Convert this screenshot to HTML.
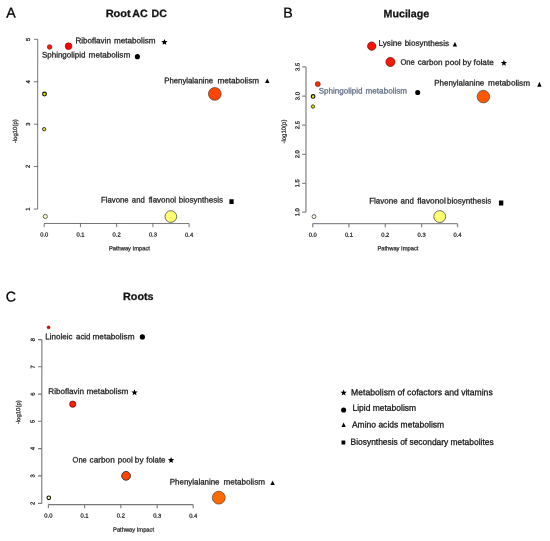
<!DOCTYPE html>
<html lang="en"><head><meta charset="utf-8"><title>Pathway analysis</title>
<style>html,body{margin:0;padding:0;background:#fff}body{width:550px;height:541px;overflow:hidden}text{white-space:pre;stroke-width:0.26px;paint-order:stroke fill} svg{filter:blur(0.35px)}</style>
</head><body>
<svg width="550" height="541" viewBox="0 0 550 541" font-family='"Liberation Sans", sans-serif' style="display:block">
<g transform="rotate(0.03 275 270)">
<text x="6.0" y="17.6" font-size="14.2" fill="#000" stroke="#000">A</text>
<text x="283.1" y="17.6" font-size="14.2" fill="#000" stroke="#000">B</text>
<text x="5.7" y="301.7" font-size="14.2" fill="#000" stroke="#000">C</text>
<text y="17.1" font-size="10.6" font-weight="bold" fill="#111" stroke="#111"><tspan x="105.54" textLength="25.09" lengthAdjust="spacingAndGlyphs">Root</tspan> <tspan x="132.19" textLength="15.45" lengthAdjust="spacingAndGlyphs">AC</tspan> <tspan x="151.36" textLength="15.37" lengthAdjust="spacingAndGlyphs">DC</tspan></text>
<text x="383.4" y="17.2" font-size="10.6" font-weight="bold" fill="#111" stroke="#111" textLength="45.7" lengthAdjust="spacingAndGlyphs">Mucilage</text>
<text x="123.1" y="300.0" font-size="10.6" font-weight="bold" fill="#111" stroke="#111" textLength="30.5" lengthAdjust="spacingAndGlyphs">Roots</text>
<path d="M37.6 39.4V209.2M37.6 39.4h-3.8M37.6 81.9h-3.8M37.6 124.3h-3.8M37.6 166.6h-3.8M37.6 209.2h-3.8M44.2 223.6H189.1M44.2 223.6v3.6M80.4 223.6v3.6M116.6 223.6v3.6M152.9 223.6v3.6M189.1 223.6v3.6" stroke="#222" stroke-width="0.62" fill="none"/>
<text transform="translate(29.8 39.4) rotate(-90)" text-anchor="middle" font-size="5.8" fill="#222" stroke="#222" stroke-width="0.18">5</text>
<text transform="translate(29.8 81.9) rotate(-90)" text-anchor="middle" font-size="5.8" fill="#222" stroke="#222" stroke-width="0.18">4</text>
<text transform="translate(29.8 124.3) rotate(-90)" text-anchor="middle" font-size="5.8" fill="#222" stroke="#222" stroke-width="0.18">3</text>
<text transform="translate(29.8 166.6) rotate(-90)" text-anchor="middle" font-size="5.8" fill="#222" stroke="#222" stroke-width="0.18">2</text>
<text transform="translate(29.8 209.2) rotate(-90)" text-anchor="middle" font-size="5.8" fill="#222" stroke="#222" stroke-width="0.18">1</text>
<text x="44.2" y="236.7" text-anchor="middle" font-size="5.8" fill="#2a2a2a" stroke="#2a2a2a" stroke-width="0.18">0.0</text>
<text x="80.4" y="236.7" text-anchor="middle" font-size="5.8" fill="#2a2a2a" stroke="#2a2a2a" stroke-width="0.18">0.1</text>
<text x="116.6" y="236.7" text-anchor="middle" font-size="5.8" fill="#2a2a2a" stroke="#2a2a2a" stroke-width="0.18">0.2</text>
<text x="152.9" y="236.7" text-anchor="middle" font-size="5.8" fill="#2a2a2a" stroke="#2a2a2a" stroke-width="0.18">0.3</text>
<text x="189.1" y="236.7" text-anchor="middle" font-size="5.8" fill="#2a2a2a" stroke="#2a2a2a" stroke-width="0.18">0.4</text>
<text transform="translate(16.9 131.4) rotate(-90)" text-anchor="middle" font-size="6" fill="#333" stroke="#333" stroke-width="0.18" textLength="24" lengthAdjust="spacingAndGlyphs">-log10(p)</text>
<text x="108.9" y="250.3" font-size="5.8" fill="#2a2a2a" stroke="#2a2a2a" textLength="41" lengthAdjust="spacingAndGlyphs" stroke-width="0.12">Pathway Impact</text>
<circle cx="49.5" cy="47.1" r="2.30" fill="#ff1a00" stroke="#8a0000" stroke-width="0.6"/>
<circle cx="68.4" cy="46.3" r="3.35" fill="#ff0000" stroke="#8a0000" stroke-width="0.6"/>
<circle cx="44.4" cy="94.2" r="1.88" fill="#f2ea00" stroke="#111" stroke-width="1.15"/>
<circle cx="44.1" cy="129.3" r="1.67" fill="#ecec20" stroke="#222" stroke-width="0.95"/>
<circle cx="45.3" cy="216.6" r="2.08" fill="#ffffd0" stroke="#444" stroke-width="0.85"/>
<circle cx="214.7" cy="93.9" r="6.40" fill="#ff4500" stroke="#333" stroke-width="0.6"/>
<circle cx="170.8" cy="216.6" r="5.85" fill="#ffff70" stroke="#333" stroke-width="0.7"/>
<text y="43.3" font-size="8" fill="#1a1a1a" stroke="#1a1a1a"><tspan x="75.35" textLength="35.50" lengthAdjust="spacingAndGlyphs">Riboflavin</tspan> <tspan x="113.91" textLength="41.50" lengthAdjust="spacingAndGlyphs">metabolism</tspan></text>
<polygon points="164.30,38.94 165.16,41.07 167.45,41.23 165.68,42.70 166.24,44.93 164.30,43.71 162.36,44.93 162.92,42.70 161.15,41.23 163.44,41.07" fill="#000"/>
<text y="57.5" font-size="8" fill="#1a1a1a" stroke="#1a1a1a"><tspan x="41.78" textLength="43.67" lengthAdjust="spacingAndGlyphs">Sphingolipid</tspan> <tspan x="88.51" textLength="41.60" lengthAdjust="spacingAndGlyphs">metabolism</tspan></text>
<circle cx="137.3" cy="56.7" r="2.55" fill="#000"/>
<text y="83.2" font-size="8" fill="#1a1a1a" stroke="#1a1a1a"><tspan x="164.18" textLength="48.80" lengthAdjust="spacingAndGlyphs">Phenylalanine</tspan> <tspan x="217.31" textLength="41.60" lengthAdjust="spacingAndGlyphs">metabolism</tspan></text>
<polygon points="267.2,78.40 269.34999999999997,83.10 265.05,83.10" fill="#000"/>
<text y="202.5" font-size="8" fill="#1a1a1a" stroke="#1a1a1a"><tspan x="100.98" textLength="27.60" lengthAdjust="spacingAndGlyphs">Flavone</tspan> <tspan x="131.79" textLength="12.95" lengthAdjust="spacingAndGlyphs">and</tspan> <tspan x="148.62" textLength="27.48" lengthAdjust="spacingAndGlyphs">flavonol</tspan> <tspan x="178.72" textLength="44.22" lengthAdjust="spacingAndGlyphs">biosynthesis</tspan></text>
<rect x="229.4" y="199.2" width="4.20" height="4.70" fill="#000"/>
<path d="M305.9 66.9V212.2M305.9 66.9h-3.8M305.9 96.1h-3.8M305.9 125.1h-3.8M305.9 154.3h-3.8M305.9 183.3h-3.8M305.9 212.2h-3.8M312.7 223.6H457.5M312.7 223.6v3.6M348.9 223.6v3.6M385.3 223.6v3.6M421.6 223.6v3.6M457.5 223.6v3.6" stroke="#8a8a8a" stroke-width="1.3" fill="none"/>
<text transform="translate(299.3 66.9) rotate(-90)" text-anchor="middle" font-size="5.8" fill="#222" stroke="#222" stroke-width="0.18">3.5</text>
<text transform="translate(299.3 96.1) rotate(-90)" text-anchor="middle" font-size="5.8" fill="#222" stroke="#222" stroke-width="0.18">3.0</text>
<text transform="translate(299.3 125.1) rotate(-90)" text-anchor="middle" font-size="5.8" fill="#222" stroke="#222" stroke-width="0.18">2.5</text>
<text transform="translate(299.3 154.3) rotate(-90)" text-anchor="middle" font-size="5.8" fill="#222" stroke="#222" stroke-width="0.18">2.0</text>
<text transform="translate(299.3 183.3) rotate(-90)" text-anchor="middle" font-size="5.8" fill="#222" stroke="#222" stroke-width="0.18">1.5</text>
<text transform="translate(299.3 212.2) rotate(-90)" text-anchor="middle" font-size="5.8" fill="#222" stroke="#222" stroke-width="0.18">1.0</text>
<text x="312.7" y="236.7" text-anchor="middle" font-size="5.8" fill="#2a2a2a" stroke="#2a2a2a" stroke-width="0.18">0.0</text>
<text x="348.9" y="236.7" text-anchor="middle" font-size="5.8" fill="#2a2a2a" stroke="#2a2a2a" stroke-width="0.18">0.1</text>
<text x="385.3" y="236.7" text-anchor="middle" font-size="5.8" fill="#2a2a2a" stroke="#2a2a2a" stroke-width="0.18">0.2</text>
<text x="421.6" y="236.7" text-anchor="middle" font-size="5.8" fill="#2a2a2a" stroke="#2a2a2a" stroke-width="0.18">0.3</text>
<text x="457.5" y="236.7" text-anchor="middle" font-size="5.8" fill="#2a2a2a" stroke="#2a2a2a" stroke-width="0.18">0.4</text>
<text transform="translate(285.59999999999997 131.6) rotate(-90)" text-anchor="middle" font-size="6" fill="#333" stroke="#333" stroke-width="0.18" textLength="24" lengthAdjust="spacingAndGlyphs">-log10(p)</text>
<text x="377.4" y="250.3" font-size="5.8" fill="#2a2a2a" stroke="#2a2a2a" textLength="41" lengthAdjust="spacingAndGlyphs" stroke-width="0.12">Pathway Impact</text>
<circle cx="371.6" cy="46.1" r="4.17" fill="#ff1000" stroke="#4a0000" stroke-width="0.65"/>
<circle cx="390.3" cy="61.9" r="4.52" fill="#ff1800" stroke="#4a0000" stroke-width="0.65"/>
<circle cx="317.7" cy="84.1" r="2.47" fill="#ff3300" stroke="#4a0000" stroke-width="0.65"/>
<circle cx="313.0" cy="96.4" r="1.82" fill="#f2f200" stroke="#111" stroke-width="1.15"/>
<circle cx="312.9" cy="106.5" r="1.65" fill="#eeee00" stroke="#222" stroke-width="0.9"/>
<circle cx="314.0" cy="216.6" r="1.97" fill="#ffffe0" stroke="#444" stroke-width="0.85"/>
<circle cx="483.3" cy="96.5" r="6.30" fill="#ff5800" stroke="#333" stroke-width="0.6"/>
<circle cx="439.7" cy="216.5" r="5.95" fill="#ffff70" stroke="#333" stroke-width="0.7"/>
<text y="45.8" font-size="8" fill="#1a1a1a" stroke="#1a1a1a"><tspan x="378.35" textLength="23.35" lengthAdjust="spacingAndGlyphs">Lysine</tspan> <tspan x="404.52" textLength="44.32" lengthAdjust="spacingAndGlyphs">biosynthesis</tspan></text>
<polygon points="454.8,41.60 456.95,46.50 452.65000000000003,46.50" fill="#000"/>
<text y="64.8" font-size="8" fill="#1a1a1a" stroke="#1a1a1a"><tspan x="400.30" textLength="14.38" lengthAdjust="spacingAndGlyphs">One</tspan> <tspan x="417.68" textLength="24.78" lengthAdjust="spacingAndGlyphs">carbon</tspan> <tspan x="445.01" textLength="15.50" lengthAdjust="spacingAndGlyphs">pool</tspan> <tspan x="462.49" textLength="8.91" lengthAdjust="spacingAndGlyphs">by</tspan> <tspan x="473.52" textLength="20.18" lengthAdjust="spacingAndGlyphs">folate</tspan></text>
<polygon points="503.80,59.64 504.66,61.77 506.95,61.93 505.18,63.40 505.74,65.63 503.80,64.41 501.86,65.63 502.42,63.40 500.65,61.93 502.94,61.77" fill="#000"/>
<text y="93.4" font-size="8" fill="#5d6b85" stroke="#5d6b85"><tspan x="318.68" textLength="43.77" lengthAdjust="spacingAndGlyphs">Sphingolipid</tspan> <tspan x="365.51" textLength="41.50" lengthAdjust="spacingAndGlyphs">metabolism</tspan></text>
<circle cx="417.6" cy="92.5" r="2.55" fill="#000"/>
<text y="85.5" font-size="8" fill="#1a1a1a" stroke="#1a1a1a"><tspan x="434.16" textLength="50.02" lengthAdjust="spacingAndGlyphs">Phenylalanine</tspan> <tspan x="488.01" textLength="41.91" lengthAdjust="spacingAndGlyphs">metabolism</tspan></text>
<polygon points="539.3,81.60 541.4499999999999,86.70 537.15,86.70" fill="#000"/>
<text y="203.5" font-size="8" fill="#1a1a1a" stroke="#1a1a1a"><tspan x="369.16" textLength="28.43" lengthAdjust="spacingAndGlyphs">Flavone</tspan> <tspan x="400.58" textLength="13.16" lengthAdjust="spacingAndGlyphs">and</tspan> <tspan x="417.12" textLength="28.60" lengthAdjust="spacingAndGlyphs">flavonol</tspan> <tspan x="446.92" textLength="44.32" lengthAdjust="spacingAndGlyphs">biosynthesis</tspan></text>
<rect x="498.9" y="200.4" width="4.40" height="4.90" fill="#000"/>
<path d="M41.9 339.7V503.5M41.9 339.7h-3.8M41.9 366.9h-3.8M41.9 394.2h-3.8M41.9 421.4h-3.8M41.9 448.7h-3.8M41.9 476.0h-3.8M41.9 503.5h-3.8M48.5 504.7H193.3M48.5 504.7v3.6M84.7 504.7v3.6M121.0 504.7v3.6M157.3 504.7v3.6M193.3 504.7v3.6" stroke="#777" stroke-width="1.1" fill="none"/>
<text transform="translate(34.7 339.7) rotate(-90)" text-anchor="middle" font-size="5.8" fill="#222" stroke="#222" stroke-width="0.18">8</text>
<text transform="translate(34.7 366.9) rotate(-90)" text-anchor="middle" font-size="5.8" fill="#222" stroke="#222" stroke-width="0.18">7</text>
<text transform="translate(34.7 394.2) rotate(-90)" text-anchor="middle" font-size="5.8" fill="#222" stroke="#222" stroke-width="0.18">6</text>
<text transform="translate(34.7 421.4) rotate(-90)" text-anchor="middle" font-size="5.8" fill="#222" stroke="#222" stroke-width="0.18">5</text>
<text transform="translate(34.7 448.7) rotate(-90)" text-anchor="middle" font-size="5.8" fill="#222" stroke="#222" stroke-width="0.18">4</text>
<text transform="translate(34.7 476.0) rotate(-90)" text-anchor="middle" font-size="5.8" fill="#222" stroke="#222" stroke-width="0.18">3</text>
<text transform="translate(34.7 503.5) rotate(-90)" text-anchor="middle" font-size="5.8" fill="#222" stroke="#222" stroke-width="0.18">2</text>
<text x="48.5" y="517.7" text-anchor="middle" font-size="5.8" fill="#2a2a2a" stroke="#2a2a2a" stroke-width="0.18">0.0</text>
<text x="84.7" y="517.7" text-anchor="middle" font-size="5.8" fill="#2a2a2a" stroke="#2a2a2a" stroke-width="0.18">0.1</text>
<text x="121.0" y="517.7" text-anchor="middle" font-size="5.8" fill="#2a2a2a" stroke="#2a2a2a" stroke-width="0.18">0.2</text>
<text x="157.3" y="517.7" text-anchor="middle" font-size="5.8" fill="#2a2a2a" stroke="#2a2a2a" stroke-width="0.18">0.3</text>
<text x="193.3" y="517.7" text-anchor="middle" font-size="5.8" fill="#2a2a2a" stroke="#2a2a2a" stroke-width="0.18">0.4</text>
<text transform="translate(20.4 412.4) rotate(-90)" text-anchor="middle" font-size="6" fill="#333" stroke="#333" stroke-width="0.18" textLength="24" lengthAdjust="spacingAndGlyphs">-log10(p)</text>
<text x="113.2" y="531.7" font-size="5.8" fill="#2a2a2a" stroke="#2a2a2a" textLength="41" lengthAdjust="spacingAndGlyphs" stroke-width="0.12">Pathway Impact</text>
<circle cx="48.6" cy="327.5" r="1.45" fill="#e00000" stroke="#8a0000" stroke-width="0.6"/>
<circle cx="72.8" cy="404.3" r="3.12" fill="#ff2000" stroke="#4a0000" stroke-width="0.65"/>
<circle cx="126.2" cy="475.9" r="4.38" fill="#ff4400" stroke="#222" stroke-width="0.85"/>
<circle cx="218.9" cy="497.7" r="6.45" fill="#ff6a00" stroke="#333" stroke-width="0.6"/>
<circle cx="48.9" cy="497.9" r="1.80" fill="#ffffb0" stroke="#111" stroke-width="1.1"/>
<text y="339.3" font-size="8" fill="#1a1a1a" stroke="#1a1a1a"><tspan x="45.36" textLength="27.20" lengthAdjust="spacingAndGlyphs">Linoleic</tspan> <tspan x="76.09" textLength="14.35" lengthAdjust="spacingAndGlyphs">acid</tspan> <tspan x="92.51" textLength="42.01" lengthAdjust="spacingAndGlyphs">metabolism</tspan></text>
<circle cx="142.4" cy="337.0" r="2.6" fill="#000"/>
<text y="394.2" font-size="8" fill="#1a1a1a" stroke="#1a1a1a"><tspan x="48.45" textLength="35.60" lengthAdjust="spacingAndGlyphs">Riboflavin</tspan> <tspan x="86.51" textLength="42.01" lengthAdjust="spacingAndGlyphs">metabolism</tspan></text>
<polygon points="134.60,389.34 135.46,391.47 137.75,391.63 135.98,393.10 136.54,395.33 134.60,394.11 132.66,395.33 133.22,393.10 131.45,391.63 133.74,391.47" fill="#000"/>
<text y="462.5" font-size="8" fill="#1a1a1a" stroke="#1a1a1a"><tspan x="72.70" textLength="14.17" lengthAdjust="spacingAndGlyphs">One</tspan> <tspan x="89.67" textLength="25.19" lengthAdjust="spacingAndGlyphs">carbon</tspan> <tspan x="117.82" textLength="15.07" lengthAdjust="spacingAndGlyphs">pool</tspan> <tspan x="134.91" textLength="8.69" lengthAdjust="spacingAndGlyphs">by</tspan> <tspan x="146.32" textLength="19.26" lengthAdjust="spacingAndGlyphs">folate</tspan></text>
<polygon points="171.20,457.04 172.06,459.17 174.35,459.33 172.58,460.80 173.14,463.03 171.20,461.81 169.26,463.03 169.82,460.80 168.05,459.33 170.34,459.17" fill="#000"/>
<text y="484.6" font-size="8" fill="#1a1a1a" stroke="#1a1a1a"><tspan x="169.97" textLength="49.62" lengthAdjust="spacingAndGlyphs">Phenylalanine</tspan> <tspan x="223.61" textLength="41.50" lengthAdjust="spacingAndGlyphs">metabolism</tspan></text>
<polygon points="272.7,480.60 274.84999999999997,485.10 270.55,485.10" fill="#000"/>
<polygon points="343.70,389.54 344.56,391.67 346.85,391.83 345.08,393.30 345.64,395.53 343.70,394.31 341.76,395.53 342.32,393.30 340.55,391.83 342.84,391.67" fill="#000"/>
<text x="351.2" y="395.1" font-size="8.8" fill="#111" stroke="#111" textLength="141.6" lengthAdjust="spacingAndGlyphs" stroke-width="0.05">Metabolism of cofactors and vitamins</text>
<circle cx="343.7" cy="409.9" r="2.55" fill="#000"/>
<text x="352.5" y="410.8" font-size="8.8" fill="#111" stroke="#111" textLength="63.7" lengthAdjust="spacingAndGlyphs" stroke-width="0.05">Lipid metabolism</text>
<polygon points="343.7,422.50 345.84999999999997,427.00 341.55,427.00" fill="#000"/>
<text x="352.0" y="427.4" font-size="8.8" fill="#111" stroke="#111" textLength="92.2" lengthAdjust="spacingAndGlyphs" stroke-width="0.05">Amino acids metabolism</text>
<rect x="341.6" y="440.4" width="3.80" height="4.00" fill="#000"/>
<text x="350.7" y="444.8" font-size="8.8" fill="#111" stroke="#111" textLength="143.0" lengthAdjust="spacingAndGlyphs" stroke-width="0.05">Biosynthesis of secondary metabolites</text>
</g>
</svg>
</body></html>
